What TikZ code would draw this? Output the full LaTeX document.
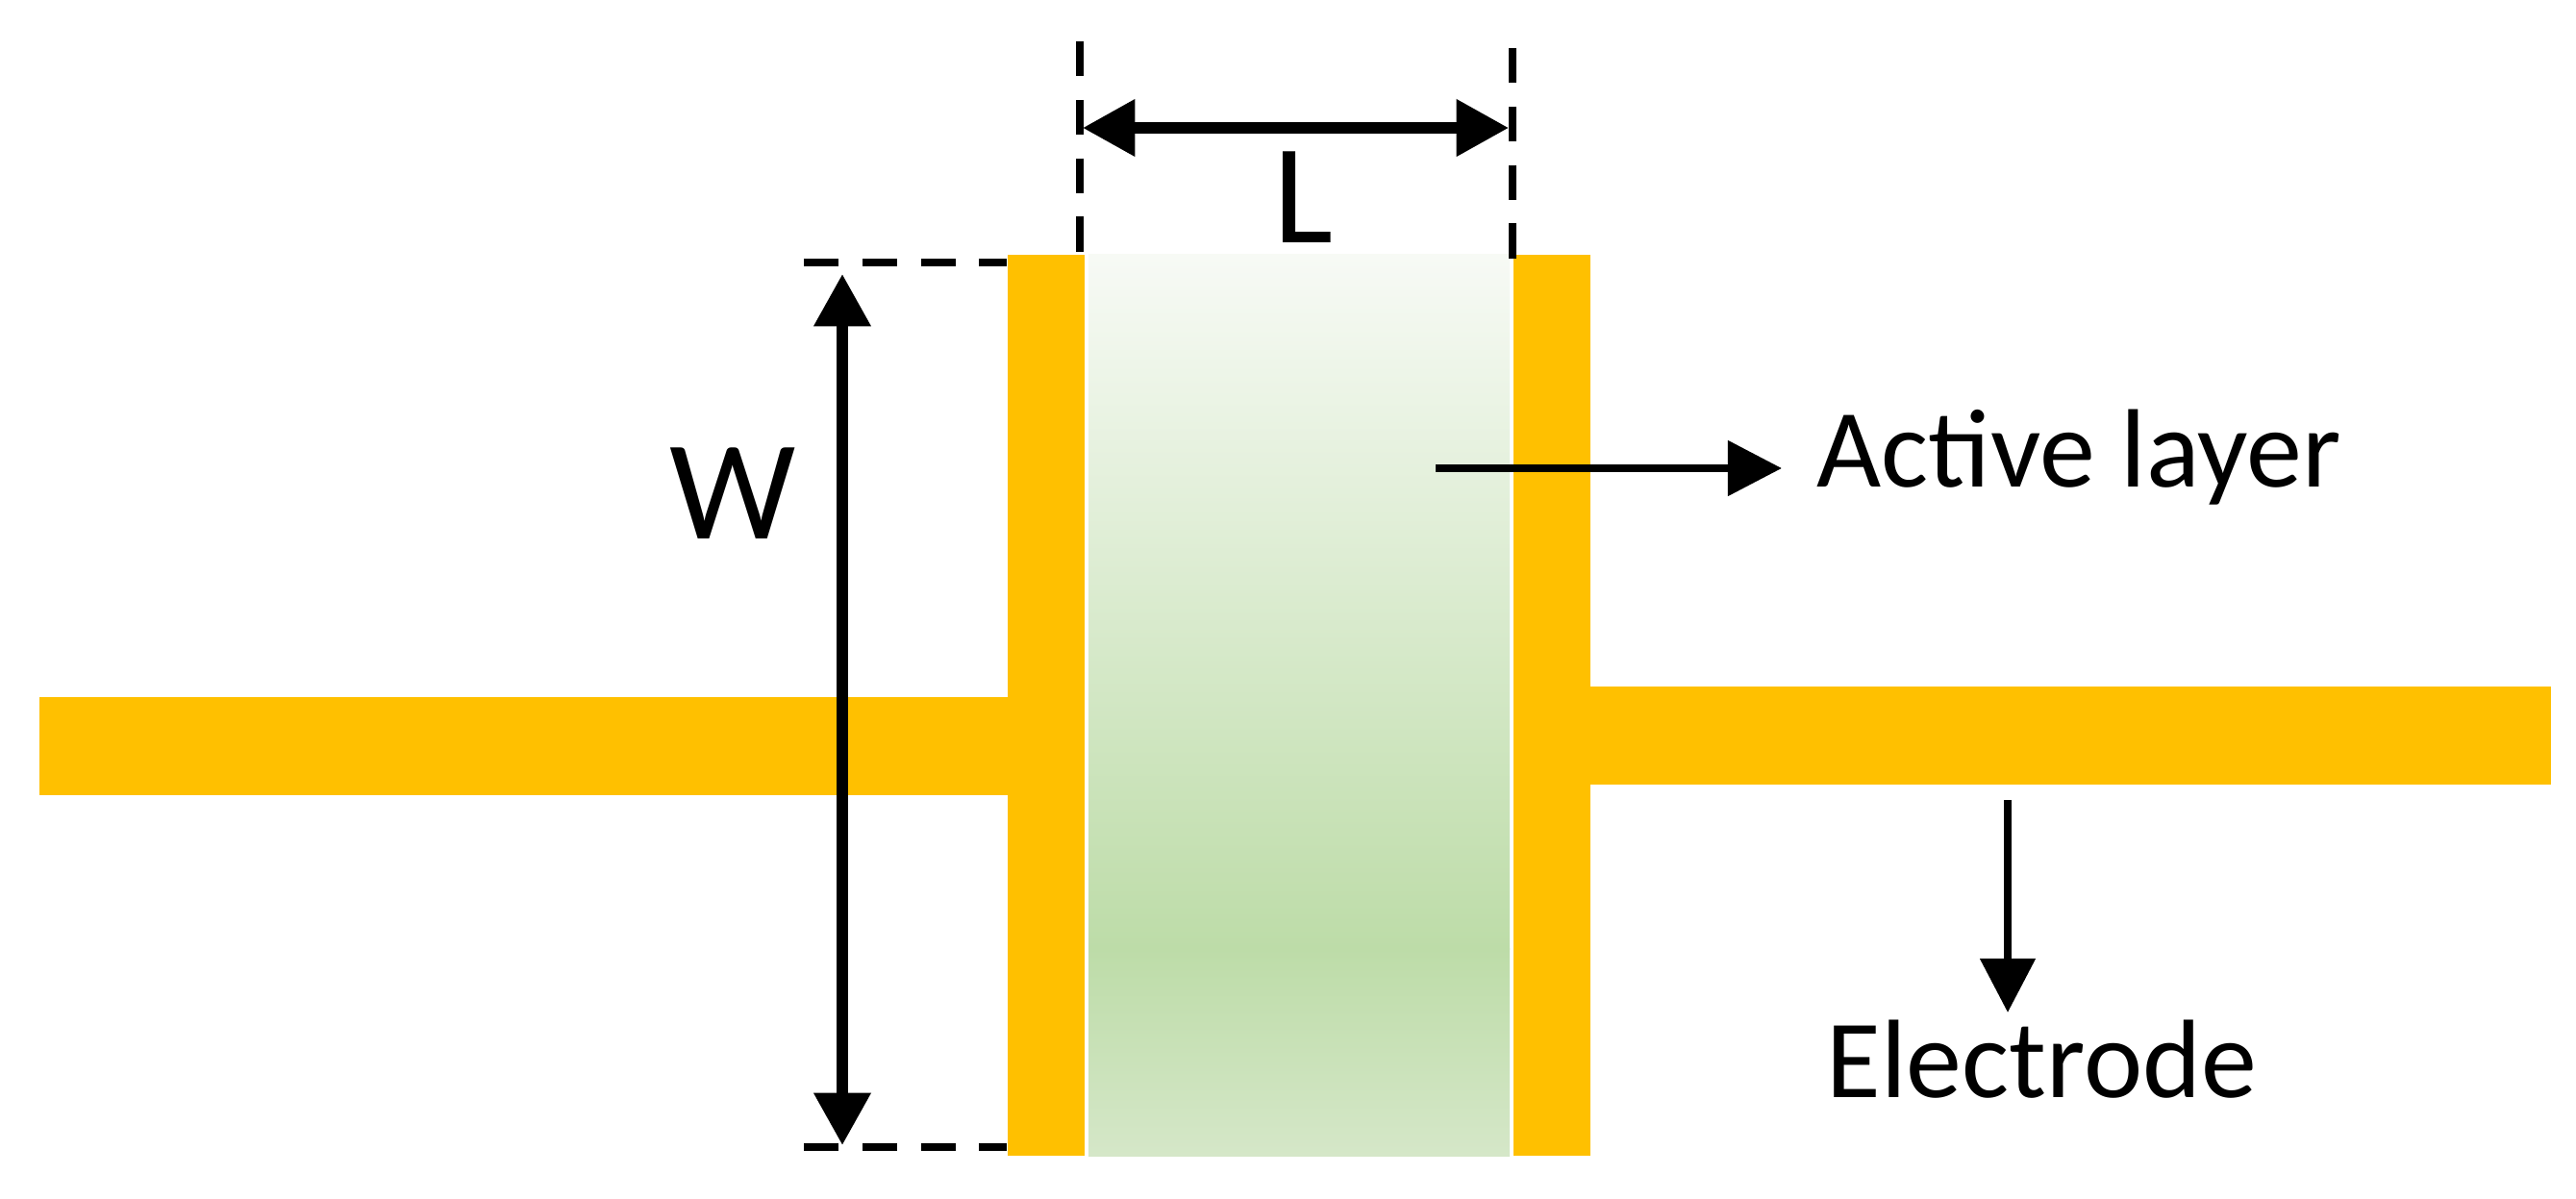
\documentclass[tikz,border=0pt]{standalone}
\usepackage{fontspec}
\setmainfont{Carlito}
\definecolor{goldbar}{RGB}{255, 192, 0}
\definecolor{activetop}{RGB}{247, 250, 245}
\definecolor{activemid}{RGB}{189, 220, 168}
\definecolor{activebot}{RGB}{213, 231, 200}
\usetikzlibrary{arrows.meta}
\tikzset{
  dimline/.style={line width=2.4pt, dash pattern=on 10.3pt off 7pt},
  dimarrow/.style={{Triangle[length=15.5pt, width=16.2pt]}-{Triangle[length=15.5pt, width=16.2pt]}, line width=3.2pt},
  callout/.style={-{Triangle[length=16pt, width=16pt]}, line width=2.3pt},
  biglabel/.style={font=\fontsize{42}{42}\selectfont, anchor=base, inner sep=0pt},
  namelabel/.style={font=\fontsize{33}{33}\selectfont, anchor=base west, inner sep=0pt}
}

\begin{document}
\begin{tikzpicture}
  \useasboundingbox (0, 0) rectangle (26.79, 12.46);

  % ===== Electrodes =====
  \fill[goldbar] (10.48, 0.44) rectangle (11.28, 9.81);
  \fill[goldbar] (15.74, 0.44) rectangle (16.54, 9.81);
  \fill[goldbar] (0.41, 4.19) rectangle (10.5, 5.21);
  \fill[goldbar] (16.52, 4.30) rectangle (26.53, 5.32);

  % Active layer
  \shade[top color=activetop, bottom color=activemid] (11.32, 2.59) rectangle (15.70, 9.81);
  \shade[top color=activemid, bottom color=activebot] (11.32, 0.44) rectangle (15.70, 2.60);

  % Extension lines
  \coordinate (ltop) at (11.23, 12.03);
  \coordinate (lbot) at (11.23, 9.83);
  \coordinate (rtop) at (15.73, 11.96);
  \coordinate (rbot) at (15.73, 9.77);
  \coordinate (wtopa) at (8.36, 9.73);
  \coordinate (wtopb) at (10.47, 9.73);
  \coordinate (wbota) at (8.36, 0.53);
  \coordinate (wbotb) at (10.47, 0.53);
  \draw[dimline] (ltop) -- (lbot);
  \draw[dimline] (rtop) -- (rbot);
  \draw[dimline] (wtopa) -- (wtopb);
  \draw[dimline] (wbota) -- (wbotb);

  % Dimensions
  \coordinate (lleft) at (11.26, 11.13);
  \coordinate (lright) at (15.69, 11.13);
  \coordinate (wup) at (8.76, 9.61);
  \coordinate (wdown) at (8.76, 0.55);
  \draw[dimarrow] (lleft) -- (lright);
  \draw[dimarrow] (wup) -- (wdown);
  \node[biglabel] (lname) at (13.56, 9.94) {L};
  \node[biglabel] (wname) at (7.62, 6.86) {W};

  % Callouts
  \node[namelabel] (activename) at (18.89, 7.40) {Active layer};
  \node[namelabel] (electrodename) at (18.99, 1.05) {Electrode};
  \coordinate (activefrom) at (14.93, 7.59);
  \coordinate (activeto) at (18.53, 7.59);
  \coordinate (electrodefrom) at (20.88, 4.14);
  \coordinate (electrodeto) at (20.88, 1.93);
  \draw[callout] (activefrom) -- (activeto);
  \draw[callout] (electrodefrom) -- (electrodeto);
\end{tikzpicture}
\end{document}
